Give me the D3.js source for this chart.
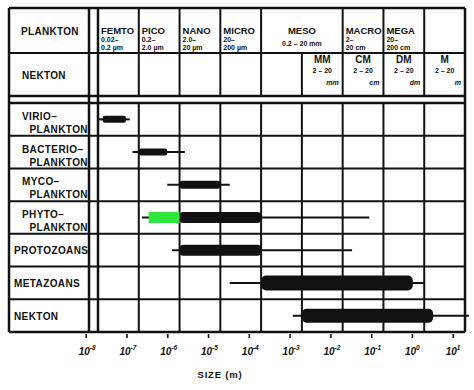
<!DOCTYPE html>
<html>
<head>
<meta charset="utf-8">
<script src="https://cdn.jsdelivr.net/npm/d3@7"></script>
<style>
  body { margin: 0; background: #fff; }
  svg { display: block; }
  text { font-family: "Liberation Sans", Arial, sans-serif; fill: #111; }
</style>
</head>
<body>
<svg id="chart" width="474" height="390"></svg>
<script>
/* Data */
// size class boundaries (m)
const classBounds = [2e-8, 2e-7, 2e-6, 2e-5, 2e-4, 2e-3, 2e-2, 2e-1, 2, 20];

// plankton classes (header row 1)
const planktonNames = ['FEMTO', 'PICO', 'NANO', 'MICRO', 'MESO', 'MACRO', 'MEGA', ''];
const planktonFrom = [2e-8, 2e-7, 2e-6, 2e-5, 2e-4, 2e-2, 2e-1, 2];
const planktonTo = [2e-7, 2e-6, 2e-5, 2e-4, 2e-2, 2e-1, 2, 20];
const planktonLine2 = ['0.02–', '0.2–', '2.0–', '20–', '0.2 – 20 mm', '2–', '20–', ''];
const planktonLine3 = ['0.2 µm', '2.0 µm', '20 µm', '200 µm', '', '20 cm', '200 cm', ''];

// nekton classes (header row 2)
const nektonNames = ['MM', 'CM', 'DM', 'M'];
const nektonFrom = [2e-3, 2e-2, 2e-1, 2];
const nektonTo = [2e-2, 2e-1, 2, 20];
const nektonUnits = ['mm', 'cm', 'dm', 'm'];

// groups and their size ranges (m)
const groupNames = [
  ['VIRIO–', 'PLANKTON'],
  ['BACTERIO–', 'PLANKTON'],
  ['MYCO–', 'PLANKTON'],
  ['PHYTO–', 'PLANKTON'],
  ['PROTOZOANS'],
  ['METAZOANS'],
  ['NEKTON']
];
const rangeMin = [2e-8, 1.4e-7, 1e-6, 2.4e-7, 1.3e-6, 3.4e-5, 1.2e-3];
const rangeMax = [1.2e-7, 2.7e-6, 3.4e-5, 9e-2, 3.4e-2, 2, 25];
const coreMin = [2.6e-8, 2e-7, 2e-6, 2e-6, 2e-6, 2e-4, 2e-3];
const coreMax = [9.7e-8, 1e-6, 2e-5, 2e-4, 2e-4, 1.05, 3.3];
// picophytoplankton part of the phyto bar
const picoPhyto = [3.5e-7, 2e-6];

const tickValues = [1e-8, 1e-7, 1e-6, 1e-5, 1e-4, 1e-3, 1e-2, 1e-1, 1, 10];

/* Styles */
const barHeights = [7, 7, 8, 11, 11, 15, 14];
const INK = '#111';
const GREEN = '#2ee63c';

/* Layout */
const svg = d3.select('#chart');
const LEFT = 9, LABEL_RIGHT = 89, RIGHT = 465;
const TOP = 8, HEAD_MID = 53, HEAD_BOTTOM = 96, PLOT_TOP = 103, PLOT_BOTTOM = 332;

const x = d3.scaleLog().domain([2e-8, 20]).range([98, RIGHT]);
const y = d3.scaleBand().domain(d3.range(groupNames.length)).range([PLOT_TOP, PLOT_BOTTOM]);

const grid = svg.append('g').attr('stroke', INK).attr('stroke-width', 2).attr('fill', 'none');

function line(x1, y1, x2, y2, w) {
  grid.append('line')
    .attr('x1', x1).attr('y1', y1).attr('x2', x2).attr('y2', y2)
    .attr('stroke-width', w || 2);
}

// outer frame + label column double line
line(LEFT, TOP, LEFT, PLOT_BOTTOM, 2.5);
line(LABEL_RIGHT, TOP, LABEL_RIGHT, PLOT_BOTTOM, 2.5);
line(x(2e-8), TOP, x(2e-8), PLOT_BOTTOM, 2.5);
line(RIGHT, TOP, RIGHT, PLOT_BOTTOM, 2.5);
line(LEFT, TOP, RIGHT, TOP, 2.5);
line(LEFT, HEAD_MID, RIGHT, HEAD_MID);
line(LEFT, HEAD_BOTTOM, RIGHT, HEAD_BOTTOM, 2.5);

// header cell dividers
planktonTo.forEach(v => line(x(v), TOP, x(v), HEAD_MID));
classBounds.forEach(v => line(x(v), HEAD_MID, x(v), HEAD_BOTTOM));

// plot grid
classBounds.forEach(v => line(x(v), PLOT_TOP, x(v), PLOT_BOTTOM));
y.domain().forEach(i => line(LEFT, y(i), RIGHT, y(i), i === 0 ? 2.5 : 2));
line(LEFT, PLOT_BOTTOM, RIGHT, PLOT_BOTTOM, 2.5);

/* Header text */
const head = svg.append('g');
head.append('text').attr('x', 21).attr('y', 35)
  .attr('font-size', 10).attr('font-weight', 'bold').attr('letter-spacing', 0.3)
  .text('PLANKTON');
head.append('text').attr('x', 22).attr('y', 79)
  .attr('font-size', 10).attr('font-weight', 'bold').attr('letter-spacing', 0.3)
  .text('NEKTON');

planktonNames.forEach((name, i) => {
  const x0 = x(planktonFrom[i]), x1 = x(planktonTo[i]);
  const single = planktonLine3[i] === '';
  const tx = single ? (x0 + x1) / 2 : x0 + 3;
  const anchor = single ? 'middle' : 'start';
  head.append('text').attr('x', tx).attr('y', 34)
    .attr('text-anchor', anchor)
    .attr('font-size', 9.5).attr('font-weight', 'bold')
    .text(name);
  head.append('text').attr('x', tx).attr('y', single ? 46 : 42)
    .attr('text-anchor', anchor)
    .attr('font-size', 7).attr('font-weight', 'bold')
    .text(planktonLine2[i]);
  if (!single) {
    head.append('text').attr('x', tx).attr('y', 50)
      .attr('font-size', 7).attr('font-weight', 'bold')
      .text(planktonLine3[i]);
  }
});

nektonNames.forEach((name, i) => {
  const x0 = x(nektonFrom[i]), x1 = x(nektonTo[i]);
  head.append('text').attr('x', (x0 + x1) / 2).attr('y', 63)
    .attr('text-anchor', 'middle')
    .attr('font-size', 10).attr('font-weight', 'bold')
    .text(name);
  head.append('text').attr('x', (x0 + x1) / 2).attr('y', 73)
    .attr('text-anchor', 'middle')
    .attr('font-size', 7).attr('font-weight', 'bold')
    .text('2 – 20');
  head.append('text').attr('x', x1 - 4).attr('y', 85)
    .attr('text-anchor', 'end')
    .attr('font-size', 7).attr('font-weight', 'bold').attr('font-style', 'italic')
    .text(nektonUnits[i]);
});

/* Row labels */
const labels = svg.append('g')
  .attr('font-size', 10).attr('font-weight', 'bold').attr('letter-spacing', 0.4);

groupNames.forEach((lines, i) => {
  if (lines.length === 2) {
    labels.append('text').attr('x', 22).attr('y', y(i) + 17).text(lines[0]);
    labels.append('text').attr('x', LABEL_RIGHT - 1).attr('y', y(i) + 30)
      .attr('text-anchor', 'end').text(lines[1]);
  } else {
    labels.append('text').attr('x', 14).attr('y', y(i) + y.bandwidth() / 2 + 4).text(lines[0]);
  }
});

/* Bars */
const bars = svg.append('g');
const rows = d3.range(groupNames.length);

bars.selectAll('line.range')
  .data(rows).enter().append('line')
  .attr('class', 'range')
  .attr('x1', i => x(rangeMin[i]))
  .attr('x2', i => x(rangeMax[i]))
  .attr('y1', i => y(i) + y.bandwidth() / 2)
  .attr('y2', i => y(i) + y.bandwidth() / 2)
  .attr('stroke', INK).attr('stroke-width', 2);

bars.selectAll('rect.core')
  .data(rows).enter().append('rect')
  .attr('class', 'core')
  .attr('x', i => x(coreMin[i]))
  .attr('width', i => x(coreMax[i]) - x(coreMin[i]))
  .attr('y', i => y(i) + y.bandwidth() / 2 - barHeights[i] / 2)
  .attr('height', i => barHeights[i])
  .attr('rx', i => barHeights[i] / 3)
  .attr('fill', INK);

bars.append('rect')
  .attr('x', x(picoPhyto[0]))
  .attr('width', x(picoPhyto[1]) - x(picoPhyto[0]))
  .attr('y', y(3) + y.bandwidth() / 2 - barHeights[3] / 2)
  .attr('height', barHeights[3])
  .attr('fill', GREEN);

/* Axis */
const axis = d3.axisBottom(x).tickValues(tickValues).tickSize(4).tickFormat('');
svg.append('g')
  .attr('transform', `translate(0,${PLOT_BOTTOM + 2})`)
  .call(axis)
  .call(a => a.select('.domain').remove())
  .call(a => a.selectAll('.tick line').attr('stroke', INK).attr('stroke-width', 1.6));

const tickLabels = svg.append('g')
  .attr('font-weight', 'bold').attr('font-style', 'italic');
tickValues.forEach(v => {
  const t = tickLabels.append('text')
    .attr('x', x(v) - 7).attr('y', 355)
    .attr('font-size', 10);
  t.append('tspan').text('10');
  t.append('tspan').attr('dy', -5).attr('font-size', 6.5)
    .text(Math.round(Math.log10(v)) === 0 ? '0' : Math.round(Math.log10(v)));
});

svg.append('text')
  .attr('x', 220).attr('y', 378)
  .attr('text-anchor', 'middle')
  .attr('font-size', 9.5).attr('font-weight', 'bold').attr('letter-spacing', 0.8)
  .text('SIZE (m)');
</script>
</body>
</html>
